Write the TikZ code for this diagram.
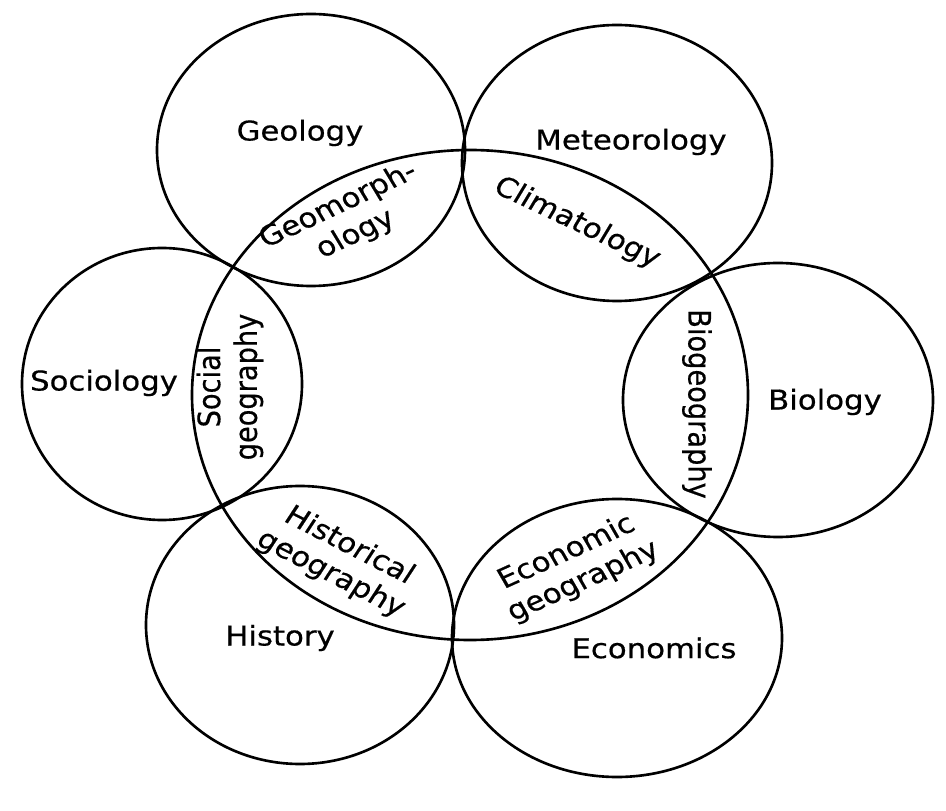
\documentclass[tikz,border=0pt]{standalone}
\usepackage{fontspec}
\setmainfont{DejaVu Sans}
\newfontfamily\labelfont{DejaVu Sans}[FakeBold=0.5]
\tikzstyle{field} = [draw=black, line width=1.5pt]
\tikzstyle{subject} = [font=\labelfont\fontsize{15.5}{18.5}\selectfont, inner sep=0pt, align=center, xscale=1.13, transform shape]

\begin{document}
\begin{tikzpicture}[x=0.2mm, y=-0.2mm]
    \useasboundingbox (0,0) rectangle (946,811);
    %centres of the fields
    \coordinate (c_geo)  at (470,395);
    \coordinate (c_geol) at (311,150);
    \coordinate (c_met)  at (617,163);
    \coordinate (c_bio)  at (778,400);
    \coordinate (c_eco)  at (617,638);
    \coordinate (c_his)  at (300,625);
    \coordinate (c_soc)  at (162,384);

    %the circles
    \draw [field] (c_geo)  ellipse [x radius=278, y radius=245];
    \draw [field] (c_geol) ellipse [x radius=154, y radius=136];
    \draw [field] (c_met)  ellipse [x radius=155, y radius=138];
    \draw [field] (c_bio)  ellipse [x radius=155, y radius=137];
    \draw [field] (c_eco)  ellipse [x radius=165, y radius=139];
    \draw [field] (c_his)  ellipse [x radius=154, y radius=139];
    \draw [field] (c_soc)  ellipse [x radius=140, y radius=136];

    %subjects
    \node (geology)   [subject] at (300,133) {Geology};
    \node (meteo)     [subject] at (631,142) {Meteorology};
    \node (sociology) [subject] at (104,383) {Sociology};
    \node (biology)   [subject] at (825,402) {Biology};
    \node (history)   [subject] at (280,638) {History};
    \node (economics) [subject] at (654,648) {Economics};

    %overlaps with geography
    \node (geomorph) [subject, rotate=28]  at (347,220) {Geomorph-\\ology};
    \node (climat)   [subject, rotate=-28] at (577,223) {Climatology};
    \node (socgeo)   [subject, rotate=90]  at (230,387) {Social\\geography};
    \node (biogeo)   [subject, rotate=-90] at (697,404) {Biogeography};
    \node (histgeo)  [subject, rotate=-30] at (340,560) {Historical\\geography};
    \node (ecogeo)   [subject, rotate=27]  at (575,567) {Economic\\geography};
\end{tikzpicture}
\end{document}
